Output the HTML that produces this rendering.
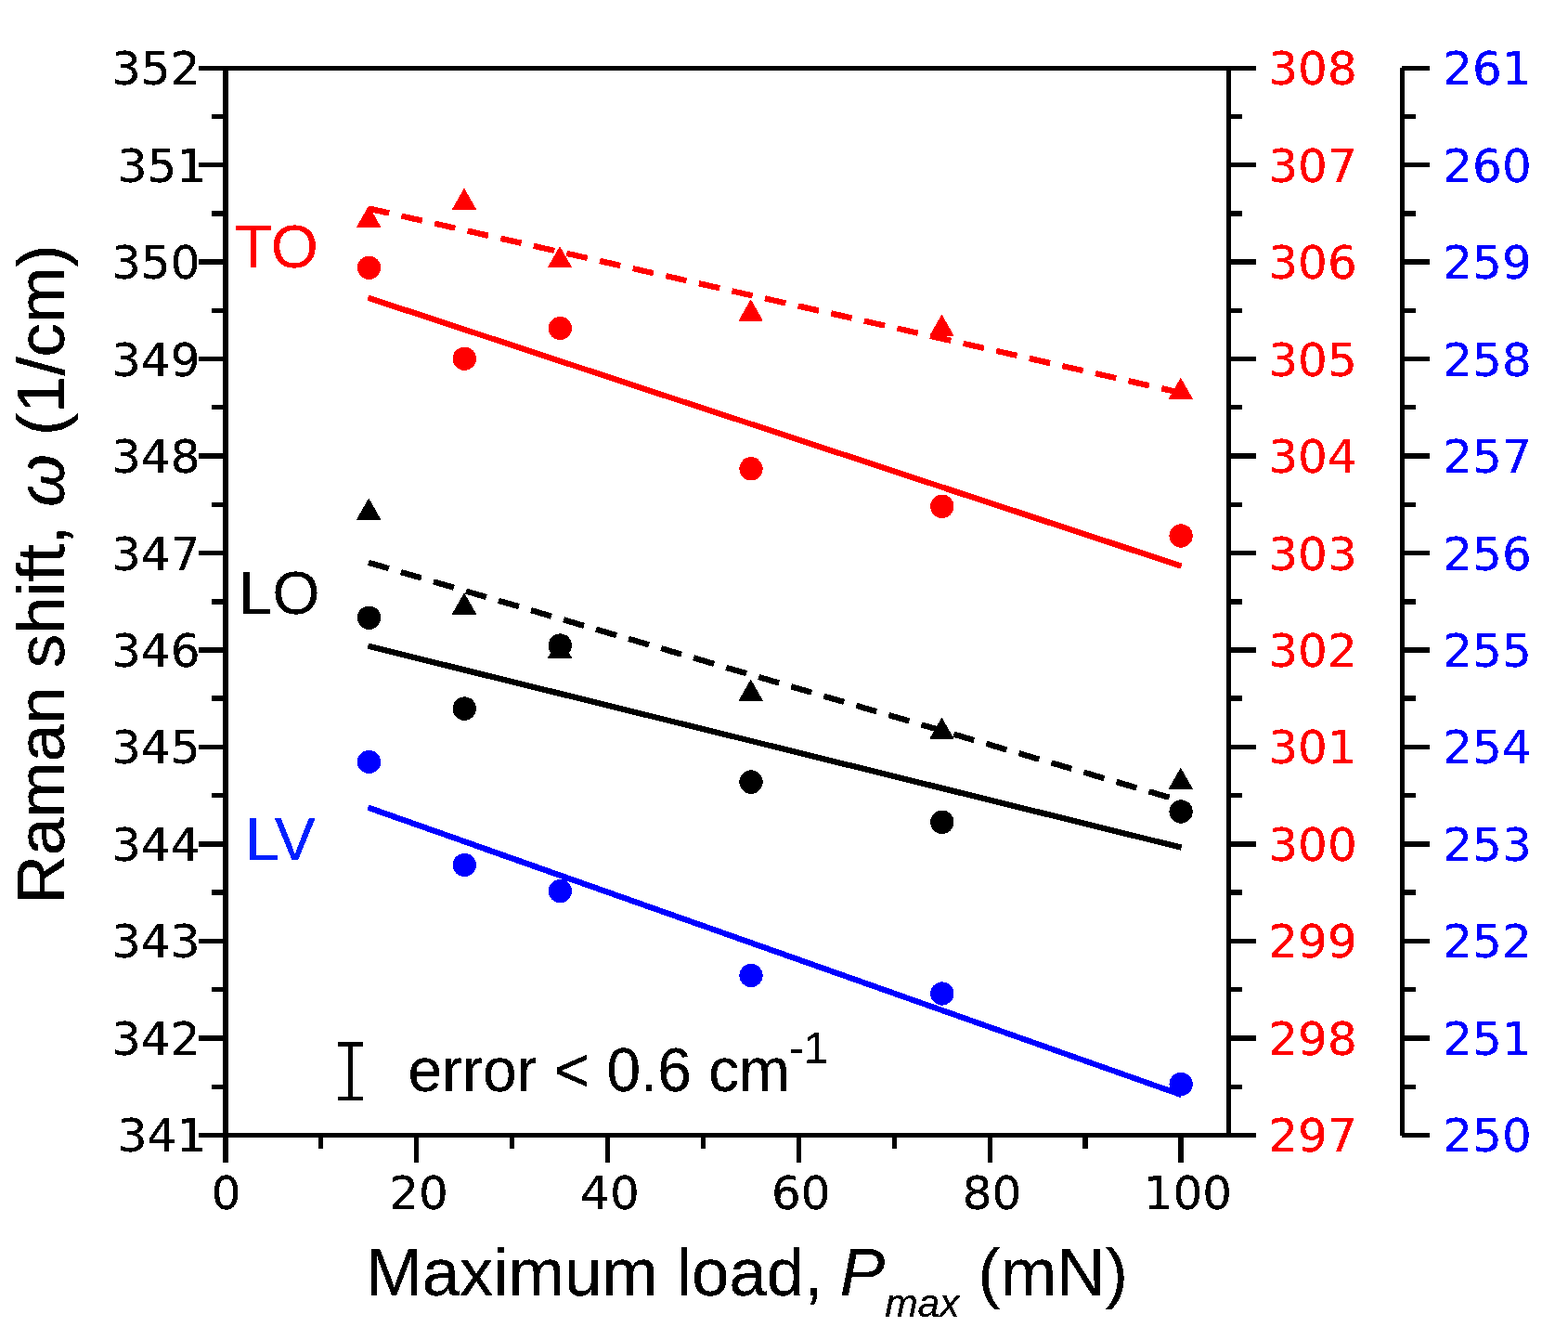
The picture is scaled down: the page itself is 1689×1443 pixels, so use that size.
<!DOCTYPE html>
<html lang="en">
<head>
<meta charset="utf-8">
<title>Raman shift vs maximum load</title>
<style>
html,body{margin:0;padding:0;background:#fff;}
body{width:1689px;height:1443px;overflow:hidden;}
svg{display:block;}
</style>
</head>
<body>
<svg width="1689" height="1443" viewBox="0 0 1689 1443">
<rect width="1689" height="1443" fill="#fff"/>
<defs><filter id="crisp" x="0" y="0" width="100%" height="100%" filterUnits="userSpaceOnUse" primitiveUnits="userSpaceOnUse" color-interpolation-filters="sRGB"><feComponentTransfer><feFuncA type="discrete" tableValues="0 1 1"/></feComponentTransfer></filter></defs>
<path id="axes" fill="#000" shape-rendering="crispEdges" d="M240 71H246V1252H240ZM1321 71H1326V1225H1321ZM1508 73H1513V1223H1508ZM214 71H1353V76H214ZM214 1220H1353V1225H214ZM214 71H240V76H214ZM1326 71H1353V76H1326ZM1510 71H1540V76H1510ZM228 123H240V128H228ZM1326 123H1338V128H1326ZM1513 123H1525V128H1513ZM214 175H240V180H214ZM1326 175H1353V180H1326ZM1510 175H1540V180H1510ZM228 227H240V233H228ZM1326 227H1338V233H1326ZM1513 227H1525V233H1513ZM214 279H240V285H214ZM1326 279H1353V285H1326ZM1510 279H1540V285H1510ZM228 332H240V337H228ZM1326 332H1338V337H1326ZM1513 332H1525V337H1513ZM214 384H240V389H214ZM1326 384H1353V389H1326ZM1510 384H1540V389H1510ZM228 436H240V441H228ZM1326 436H1338V441H1326ZM1513 436H1525V441H1513ZM214 488H240V494H214ZM1326 488H1353V494H1326ZM1510 488H1540V494H1510ZM228 541H240V546H228ZM1326 541H1338V546H1326ZM1513 541H1525V546H1513ZM214 593H240V598H214ZM1326 593H1353V598H1326ZM1510 593H1540V598H1510ZM228 645H240V651H228ZM1326 645H1338V651H1326ZM1513 645H1525V651H1513ZM214 697H240V703H214ZM1326 697H1353V703H1326ZM1510 697H1540V703H1510ZM228 749H240V755H228ZM1326 749H1338V755H1326ZM1513 749H1525V755H1513ZM214 802H240V807H214ZM1326 802H1353V807H1326ZM1510 802H1540V807H1510ZM228 854H240V859H228ZM1326 854H1338V859H1326ZM1513 854H1525V859H1513ZM214 906H240V912H214ZM1326 906H1353V912H1326ZM1510 906H1540V912H1510ZM228 958H240V964H228ZM1326 958H1338V964H1326ZM1513 958H1525V964H1513ZM214 1011H240V1016H214ZM1326 1011H1353V1016H1326ZM1510 1011H1540V1016H1510ZM228 1063H240V1068H228ZM1326 1063H1338V1068H1326ZM1513 1063H1525V1068H1513ZM214 1115H240V1121H214ZM1326 1115H1353V1121H1326ZM1510 1115H1540V1121H1510ZM228 1168H240V1173H228ZM1326 1168H1338V1173H1326ZM1513 1168H1525V1173H1513ZM214 1220H240V1225H214ZM1326 1220H1353V1225H1326ZM1510 1220H1540V1225H1510ZM343 1225H348V1237H343ZM446 1225H451V1252H446ZM549 1225H554V1237H549ZM652 1225H657V1252H652ZM755 1225H760V1237H755ZM858 1225H863V1252H858ZM961 1225H966V1237H961ZM1064 1225H1069V1252H1064ZM1166 1225H1172V1237H1166ZM1269 1225H1275V1252H1269Z"/>
<g id="ticklabels" filter="url(#crisp)" font-family="'DejaVu Sans', sans-serif" font-size="50">
<g text-anchor="end" fill="#000">
<text x="222.2" y="1240.2">341</text>
<text x="215.5" y="1135.7">342</text>
<text x="215.5" y="1031.3">343</text>
<text x="215.5" y="926.8">344</text>
<text x="215.5" y="822.4">345</text>
<text x="215.5" y="717.9">346</text>
<text x="215.5" y="613.5">347</text>
<text x="215.5" y="509.0">348</text>
<text x="215.5" y="404.6">349</text>
<text x="215.5" y="300.1">350</text>
<text x="222.2" y="195.7">351</text>
<text x="215.5" y="91.2">352</text>
</g>
<g text-anchor="start" fill="#f00">
<text x="1366.3" y="1240.2">297</text>
<text x="1366.3" y="1135.7">298</text>
<text x="1366.3" y="1031.3">299</text>
<text x="1366.3" y="926.8">300</text>
<text x="1366.3" y="822.4">301</text>
<text x="1366.3" y="717.9">302</text>
<text x="1366.3" y="613.5">303</text>
<text x="1366.3" y="509.0">304</text>
<text x="1366.3" y="404.6">305</text>
<text x="1366.3" y="300.1">306</text>
<text x="1366.3" y="195.7">307</text>
<text x="1366.3" y="91.2">308</text>
</g>
<g text-anchor="start" fill="#00f">
<text x="1554.3" y="1240.2">250</text>
<text x="1554.3" y="1135.7">251</text>
<text x="1554.3" y="1031.3">252</text>
<text x="1554.3" y="926.8">253</text>
<text x="1554.3" y="822.4">254</text>
<text x="1554.3" y="717.9">255</text>
<text x="1554.3" y="613.5">256</text>
<text x="1554.3" y="509.0">257</text>
<text x="1554.3" y="404.6">258</text>
<text x="1554.3" y="300.1">259</text>
<text x="1554.3" y="195.7">260</text>
<text x="1554.3" y="91.2">261</text>
</g>
<g text-anchor="middle" fill="#000">
<text x="243.7" y="1301.8">0</text>
<text x="451.1" y="1301.8">20</text>
<text x="656.9" y="1301.8">40</text>
<text x="862.7" y="1301.8">60</text>
<text x="1068.5" y="1301.8">80</text>
<text x="1279.3" y="1301.8">100</text>
</g>
</g>
<g id="data" filter="url(#crisp)">
<circle cx="397.5" cy="288.3" r="12.5" fill="#f00"/>
<circle cx="500.3" cy="386.2" r="12.5" fill="#f00"/>
<circle cx="603.3" cy="353.5" r="12.5" fill="#f00"/>
<circle cx="809.0" cy="504.8" r="12.5" fill="#f00"/>
<circle cx="1014.8" cy="545.3" r="12.5" fill="#f00"/>
<circle cx="1272.1" cy="576.9" r="12.5" fill="#f00"/>
<path d="M397.2 221.7L410.3 244.7H384.1Z" fill="#f00"/>
<path d="M500.0 202.7L513.1 225.7H486.9Z" fill="#f00"/>
<path d="M603.0 265.3L616.1 288.3H589.9Z" fill="#f00"/>
<path d="M808.7 322.6L821.8 345.6H795.6Z" fill="#f00"/>
<path d="M1014.5 338.8L1027.6 361.8H1001.4Z" fill="#f00"/>
<path d="M1271.8 407.0L1284.9 430.0H1258.7Z" fill="#f00"/>
<circle cx="397.5" cy="665.2" r="12.5" fill="#000"/>
<circle cx="500.3" cy="763.1" r="12.5" fill="#000"/>
<circle cx="603.3" cy="695.1" r="12.5" fill="#000"/>
<circle cx="809.0" cy="842.1" r="12.5" fill="#000"/>
<circle cx="1014.8" cy="885.3" r="12.5" fill="#000"/>
<circle cx="1272.1" cy="873.9" r="12.5" fill="#000"/>
<path d="M397.2 536.7L410.3 559.7H384.1Z" fill="#000"/>
<path d="M500.0 638.4L513.1 661.4H486.9Z" fill="#000"/>
<path d="M603.0 685.8L616.1 708.8H589.9Z" fill="#000"/>
<path d="M808.7 731.8L821.8 754.8H795.6Z" fill="#000"/>
<path d="M1014.5 772.8L1027.6 795.8H1001.4Z" fill="#000"/>
<path d="M1271.8 827.0L1284.9 850.0H1258.7Z" fill="#000"/>
<circle cx="397.5" cy="820.5" r="12.5" fill="#00f"/>
<circle cx="500.3" cy="931.4" r="12.5" fill="#00f"/>
<circle cx="603.3" cy="959.6" r="12.5" fill="#00f"/>
<circle cx="809.0" cy="1050.5" r="12.5" fill="#00f"/>
<circle cx="1014.8" cy="1070.0" r="12.5" fill="#00f"/>
<circle cx="1272.1" cy="1167.5" r="12.5" fill="#00f"/>
<g stroke-width="6" fill="none">
<path d="M397 224.5L1272.5 423.1" stroke="#f00" stroke-dasharray="22.6 13.9"/>
<path d="M396.5 320.6L1272.5 609.6" stroke="#f00"/>
<path d="M397 605.8L1272.5 862.5" stroke="#000" stroke-dasharray="22.6 13.9"/>
<path d="M396.5 695.7L1272.5 912.7" stroke="#000"/>
<path d="M396.5 869.6L1272.5 1179" stroke="#00f"/>
</g>
<path id="errbar" fill="#000" shape-rendering="crispEdges" d="M364 1122H391V1127H364ZM364 1181H391V1185H364ZM375 1122H380V1185H375Z"/>
</g>
<g id="labels" filter="url(#crisp)" font-family="'Liberation Sans', sans-serif">
<text transform="translate(252.8 288) scale(1.027 1)" font-size="64" fill="#f00">TO</text>
<text transform="translate(257 661) scale(1.025 1)" font-size="64" fill="#000">LO</text>
<text transform="translate(264 926) scale(1.03 1)" font-size="64" fill="#0020ff">LV</text>
<text x="439.5" y="1175" font-size="65.8" fill="#000">error &lt; 0.6 cm<tspan dx="-1" dy="-29.7" font-size="48">-1</tspan></text>
<text x="394.2" y="1395.4" font-size="72.6" fill="#000">Maximum load, <tspan dx="-1.8" font-style="italic">P</tspan><tspan dy="22.3" font-size="42.5" font-style="italic">max</tspan><tspan dy="-22.3"> (mN)</tspan></text>
<text transform="translate(69 973.5) rotate(-90)" font-size="72.6" fill="#000">Raman shift, <tspan font-style="italic" font-size="72.6">ω</tspan> (1/cm)</text>
</g>
</svg>
</body>
</html>
